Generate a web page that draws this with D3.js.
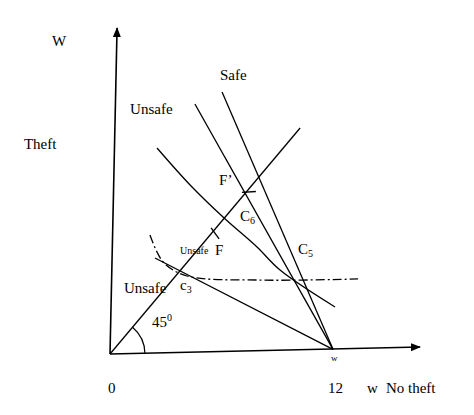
<!DOCTYPE html>
<html><head><meta charset="utf-8">
<script src="https://cdn.jsdelivr.net/npm/d3@7"></script>
<style>body{margin:0;background:#fff}text{font-family:"Liberation Serif",serif;fill:#000}</style>
</head><body><div id="chart"></div>
<script>
// Data (units: w = 12 on the no-theft axis)
const W = [12, 0.25]
const axisX = [[0, 0], [16.68, 0.38]]
const axisY = [[0, 0], [0.38, 17.55]]
const line45 = [[0, 0], [10.23, 12.17]]
const safeLine = [[6.03, 14.11], W]
const steepLine = [[4.57, 13.46], W]
const c3Line = [[2.42, 5.17], W]
const unsafeCurve = [[2.53, 11.09], [4.31, 9.1], [6.14, 7.32], [7.91, 5.76], [9.15, 4.52], [12.11, 2.53]]
const dashCurve = [[2.15, 6.41], [2.53, 5.49], [2.96, 4.85], [4.14, 4.2], [8.07, 3.98], [13.35, 4.04]]
const ticks = [[[7.1, 8.7], [7.85, 8.75]], [[5.44, 6.79], [5.87, 6.2]]]
const labels = [
  {t: "W", x: -3.12, y: 16.59, s: 15},
  {t: "Theft", x: -4.63, y: 11.04, s: 15},
  {t: "Unsafe", x: 1.08, y: 12.92, s: 15},
  {t: "Safe", x: 5.92, y: 14.75, s: 15},
  {t: "F’", x: 5.87, y: 9.1, s: 15},
  {t: "C", sub: "6", x: 7.0, y: 7.16, s: 15},
  {t: "Unsafe", x: 3.77, y: 5.39, s: 10},
  {t: "F", x: 5.65, y: 5.33, s: 15},
  {t: "C", sub: "5", x: 10.12, y: 5.39, s: 15},
  {t: "Unsafe", x: 0.75, y: 3.28, s: 15},
  {t: "c", sub: "3", x: 3.77, y: 3.45, s: 15},
  {t: "45", sup: "0", x: 2.26, y: 1.45, s: 15},
  {t: "0", x: -0.11, y: -2.1, s: 15},
  {t: "12", x: 11.73, y: -2.1, s: 15},
  {t: "w", x: 13.83, y: -2.1, s: 15},
  {t: "No theft", x: 14.85, y: -2.1, s: 15},
  {t: "w", x: 11.89, y: -0.38, s: 9}
]

const width = 474, height = 415
const xScale = d3.scaleLinear().domain([0, 12]).range([110, 333])
const yScale = d3.scaleLinear().domain([0, 17.5]).range([354, 29])

const svg = d3.select("#chart").append("svg")
  .attr("width", width).attr("height", height)

svg.append("defs").append("marker")
  .attr("id", "arrow").attr("viewBox", "0 0 10 10")
  .attr("refX", 9).attr("refY", 5)
  .attr("markerWidth", 10).attr("markerHeight", 10)
  .attr("markerUnits", "userSpaceOnUse")
  .attr("orient", "auto")
  .append("path").attr("d", "M0,1 L10,5 L0,9 Z").attr("fill", "#000")

const line = d3.line().x(d => xScale(d[0])).y(d => yScale(d[1]))
const curve = d3.line().x(d => xScale(d[0])).y(d => yScale(d[1])).curve(d3.curveCatmullRom)

const draw = (pts, gen, w) => svg.append("path")
  .attr("d", gen(pts)).attr("fill", "none")
  .attr("stroke", "#000").attr("stroke-width", w || 1.3)

draw(axisX, line, 1.6).attr("marker-end", "url(#arrow)")
draw(axisY, line, 1.6).attr("marker-end", "url(#arrow)")
draw(line45, line)
draw(safeLine, line)
draw(steepLine, line)
draw(c3Line, line)
draw(unsafeCurve, curve)
draw(dashCurve, curve).attr("stroke-dasharray", "9,3,2,3")
ticks.forEach(t => draw(t, line))

// 45 degree arc
const ang = Math.atan2(xScale(line45[1][0]) - xScale(0), yScale(0) - yScale(line45[1][1]))
svg.append("path")
  .attr("d", d3.arc().innerRadius(35).outerRadius(35).startAngle(ang).endAngle(Math.PI / 2)())
  .attr("transform", `translate(${xScale(0)},${yScale(0)})`)
  .attr("fill", "none").attr("stroke", "#000").attr("stroke-width", 1.2)

const lab = svg.append("g").selectAll("text").data(labels).join("text")
  .attr("x", d => xScale(d.x)).attr("y", d => yScale(d.y))
  .attr("font-size", d => d.s)
  .text(d => d.t)
lab.filter(d => d.sub).append("tspan").attr("font-size", 10).attr("dy", 3).text(d => d.sub)
lab.filter(d => d.sup).append("tspan").attr("font-size", 10).attr("dy", -6).text(d => d.sup)
</script></body></html>
